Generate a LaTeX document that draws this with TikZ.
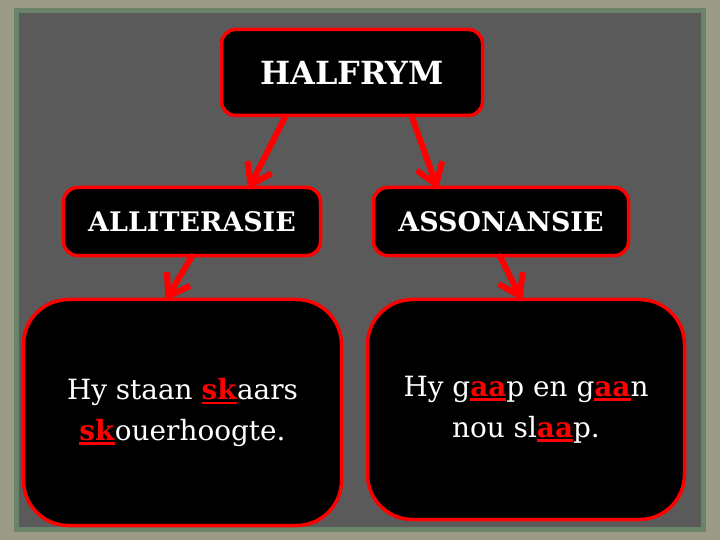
\documentclass[tikz,border=0pt]{standalone}
\usepackage{fontspec}
\setmainfont{DejaVu Serif}
\usetikzlibrary{arrows.meta}
\definecolor{bgtex}{HTML}{9A9A86}
\definecolor{framegreen}{HTML}{6B836B}
\definecolor{slate}{HTML}{5A5A5A}
\newcommand{\rym}[1]{\textcolor{red}{\setbox0\hbox{\textbf{#1}}\rlap{\rule[-4.5bp]{\wd0}{2.5bp}}\box0}}

\begin{document}
\begin{tikzpicture}[x=1bp,y=-1bp,
    box/.style={shape=rectangle,draw=red,fill=black,line width=3.5bp,rounded corners=14bp,text=white,font=\bfseries\fontsize{27}{30}\selectfont},
    bigbox/.style={shape=rectangle,draw=red,fill=black,line width=3.5bp,rounded corners=45bp,text=white,align=center,font=\fontsize{28}{41}\selectfont},
    arr/.style={draw=red,line width=6bp,line cap=round,-{Straight Barb[length=20bp,width=27bp]}}]
    \useasboundingbox (0,0) rectangle (720,540);
    \fill[bgtex] (0,0) rectangle (720,540);
    \draw[framegreen,fill=slate,line width=5bp] (16,11) rectangle (703,529);

    \node[box,minimum width=261bp,minimum height=86bp,font=\bfseries\fontsize{32}{36}\selectfont] (halfrym) at (352,72.5) {HALFRYM};
    \node[box,minimum width=257bp,minimum height=68bp] (allit) at (192,221.5) {ALLITERASIE};
    \node[box,minimum width=255bp,minimum height=68bp] (asson) at (501,221.5) {ASSONANSIE};
    \node[bigbox,minimum width=318bp,minimum height=226bp] (allitvb) at (182.5,412.5) {Hy staan \rym{sk}aars\\\rym{sk}ouerhoogte.};
    \node[bigbox,minimum width=317bp,minimum height=220bp] (assonvb) at (526,409.5) {Hy g\rym{aa}p en g\rym{aa}n\\nou sl\rym{aa}p.};

    \path[arr] ([xshift=-67bp]halfrym.south) -- ([xshift=56bp,yshift=-4bp]allit.north);
    \path[arr] ([xshift=60bp]halfrym.south) -- ([xshift=-63bp,yshift=-4bp]asson.north);
    \path[arr] ([yshift=1bp]allit.south) -- ([xshift=-17bp,yshift=-3bp]allitvb.north);
    \path[arr] ([xshift=-1bp,yshift=1bp]asson.south) -- ([xshift=-4bp,yshift=-3bp]assonvb.north);
\end{tikzpicture}
\end{document}
